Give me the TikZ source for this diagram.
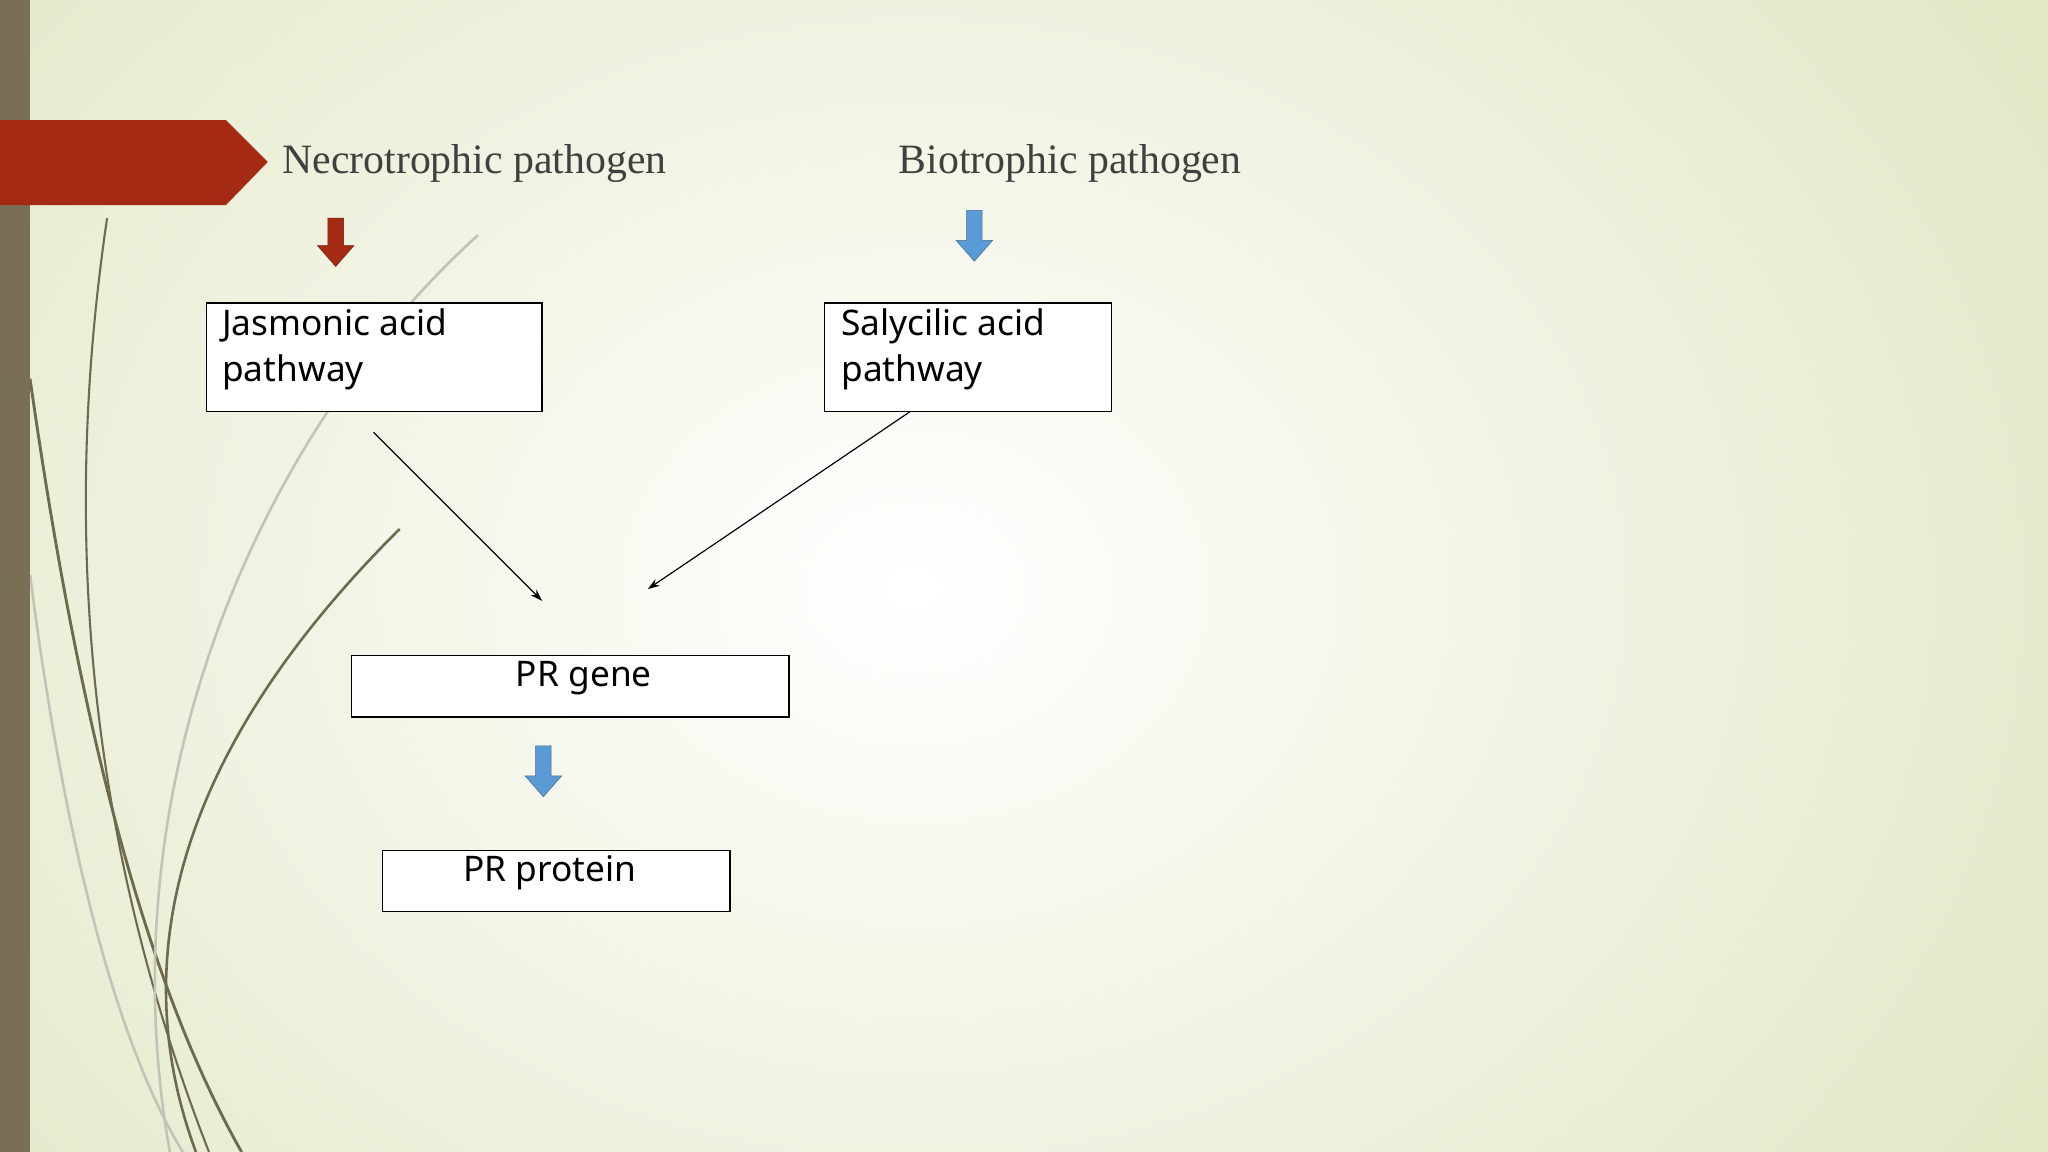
\documentclass[tikz,border=0pt]{standalone}
\usepackage{fontspec}
\setmainfont{Liberation Serif}
\newfontfamily\boxfont{Noto Sans}
\usetikzlibrary{arrows.meta}
\definecolor{bgout}{HTML}{E2E8C6}
\definecolor{barc}{HTML}{7A6E55}
\definecolor{redc}{HTML}{A52A14}
\definecolor{bluec}{HTML}{5B9BD5}
\definecolor{curvec}{HTML}{6E6A4E}
\begin{document}
\begin{tikzpicture}[x=1pt,y=-1pt,
 box/.style={draw=black,line width=1pt,fill=white,inner sep=0pt},
 btxt/.style={font=\boxfont\fontsize{27}{35}\selectfont,align=left,anchor=north west,inner sep=0pt},
 head/.style={font=\fontsize{32}{36}\selectfont,text=black!75,anchor=west,inner sep=0pt},
 conn/.style={-{Stealth[length=9pt,width=6pt]},line width=0.9pt}]
\useasboundingbox (0,0) rectangle (1568,882);
\shade[inner color=white,outer color=bgout] (-300,-350) rectangle (1700,1250);
% curves
\draw[curvec,line width=1.6pt] (82,167) .. controls (55,350) and (50,600) .. (160,882);
\draw[curvec,line width=2.2pt] (23,290) .. controls (60,550) and (110,750) .. (185,882);
\draw[curvec,line width=2pt] (306,405) .. controls (150,560) and (90,720) .. (150,882);
\draw[curvec!40,line width=2pt] (366,180) .. controls (200,330) and (80,600) .. (130,882);
\draw[curvec!40,line width=2pt] (23,440) .. controls (50,650) and (90,800) .. (140,882);
\fill[barc] (0,0) rectangle (23,882);
\fill[redc] (0,92) -- (173,92) -- (205,124) -- (173,157) -- (0,157) -- cycle;
\node[head] (nec) at (216,125) {Necrotrophic pathogen};
\node[head] (bio) at (688,125) {Biotrophic pathogen};
% block arrows
\fill[redc,draw=redc!70!black] (251,167) -- (263,167) -- (263,188) -- (271,188) -- (257,204) -- (243,188) -- (251,188) -- cycle;
\fill[bluec,draw=bluec!70!black] (740,161) -- (752,161) -- (752,184) -- (760,184) -- (746,200) -- (732,184) -- (740,184) -- cycle;
\fill[bluec,draw=bluec!70!black] (410,571) -- (422,571) -- (422,594) -- (430,594) -- (416,610) -- (402,594) -- (410,594) -- cycle;
% boxes
\draw[box] (158,232) rectangle (415,315);
\node[btxt] (ja) at (170,236) {Jasmonic acid\\pathway};
\draw[box] (631,232) rectangle (851,315);
\node[btxt] (sa) at (644,236) {Salycilic acid\\pathway};
\draw[box] (269,502) rectangle (604,549);
\node[btxt,anchor=north] (prg) at (447,506) {PR gene};
\draw[box] (293,651) rectangle (559,698);
\node[btxt,anchor=north] (prp) at (421,655) {PR protein};
\coordinate (a1) at (286,331); \coordinate (a2) at (415,460);
\coordinate (b1) at (697,315); \coordinate (b2) at (496,451);
\draw[conn] (a1) -- (a2);
\draw[conn] (b1) -- (b2);
\end{tikzpicture}
\end{document}
